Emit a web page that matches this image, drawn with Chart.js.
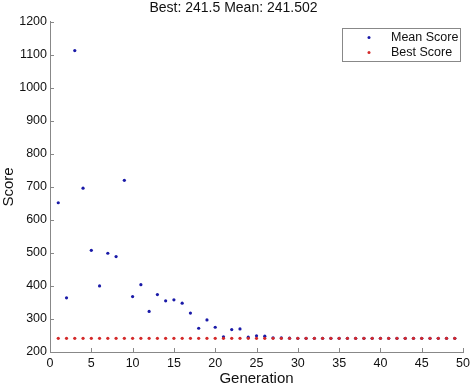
<!DOCTYPE html>
<html><head><meta charset="utf-8">
<script src="https://cdn.jsdelivr.net/npm/chart.js@4.4.0/dist/chart.umd.min.js"></script>
<style>html,body{margin:0;padding:0;background:#fff;}#wrap{width:474px;height:385px;}</style>
</head><body><div id="wrap"><canvas id="c" width="474" height="385"></canvas></div>
<script>
const generations = [1,2,3,4,5,6,7,8,9,10,11,12,13,14,15,16,17,18,19,20,21,22,23,24,25,26,27,28,29,30,31,32,33,34,35,36,37,38,39,40,41,42,43,44,45,46,47,48,49];
const meanScore = [652,364,1113,696,508,400,499,489,720,368,404,323,374,355,358,348,318,272,297,275,246,268,270,245,249,248,243,242.5,242,241.5,241.5,241.5,241.5,241.5,241.5,241.5,241.5,241.5,241.5,241.5,241.5,241.5,241.5,241.5,241.5,241.5,241.5,241.5,241.502];
const bestScore = generations.map(() => 241.5);
const xTicks = [0,5,10,15,20,25,30,35,40,45,50];
const yTicks = [200,300,400,500,600,700,800,900,1000,1100,1200];
const titleText = 'Best: 241.5 Mean: 241.502';
const FONT = "'Liberation Sans', Arial, sans-serif";

const toPts = (ys) => generations.map((g, i) => ({x: g, y: ys[i]}));

const extras = {
  id: 'extras',
  afterDraw(chart) {
    const ctx = chart.ctx, a = chart.chartArea;
    const xs = chart.scales.x, ys = chart.scales.y;
    ctx.save();
    ctx.strokeStyle = '#888';
    ctx.lineWidth = 1;
    ctx.beginPath();
    xTicks.forEach(v => { const px = Math.round(xs.getPixelForValue(v)) + 0.5; ctx.moveTo(px, a.bottom); ctx.lineTo(px, a.bottom - 4); });
    yTicks.forEach(v => { const py = Math.round(ys.getPixelForValue(v)) + 0.5; ctx.moveTo(a.left, py); ctx.lineTo(a.left + 4, py); });
    ctx.stroke();
    // legend
    const lx = 342.5, ly = 28.5, lw = 118, lh = 33;
    ctx.fillStyle = '#fff';
    ctx.fillRect(lx, ly, lw, lh);
    ctx.strokeStyle = '#888';
    ctx.strokeRect(lx, ly, lw, lh);
    ctx.font = '12.5px ' + FONT;
    ctx.textBaseline = 'middle';
    chart.data.datasets.forEach((ds, i) => {
      const cy = 37.5 + i * 15;
      ctx.fillStyle = ds.backgroundColor;
      ctx.beginPath(); ctx.arc(369, cy, 1.5, 0, Math.PI * 2); ctx.fill();
      ctx.fillStyle = '#111';
      ctx.textAlign = 'left';
      ctx.fillText(ds.label, 391, cy);
    });
    ctx.restore();
  }
};

new Chart(document.getElementById('c'), {
  type: 'scatter',
  data: {
    datasets: [
      {label: 'Mean Score', order: 1, data: toPts(meanScore), backgroundColor: '#1a1aa8', borderColor: '#1a1aa8', pointRadius: 1.6, pointBorderWidth: 0},
      {label: 'Best Score', order: 0, data: toPts(bestScore), backgroundColor: '#d42a2a', borderColor: '#d42a2a', pointRadius: 1.6, pointBorderWidth: 0}
    ]
  },
  options: {
    responsive: false,
    animation: false,
    layout: {padding: {left: 0, right: 7, top: 0, bottom: 0}},
    plugins: {
      legend: {display: false},
      tooltip: {enabled: false},
      title: {display: true, text: titleText, color: '#111', font: {family: FONT, size: 14, weight: 'normal'}, padding: {top: 0, bottom: 5}}
    },
    scales: {
      x: {
        type: 'linear', min: 0, max: 50,
        afterBuildTicks: s => { s.ticks = xTicks.map(v => ({value: v})); },
        afterFit: s => { s.height = 33; },
        grid: {display: false, drawTicks: false},
        border: {display: true, color: '#888'},
        ticks: {color: '#111', font: {family: FONT, size: 12.5}, padding: 4, maxRotation: 0, callback: v => String(v)},
        title: {display: true, text: 'Generation', color: '#111', font: {family: FONT, size: 15, lineHeight: 0.8}, padding: {top: 0, bottom: 0}}
      },
      y: {
        type: 'linear', min: 200, max: 1200,
        afterBuildTicks: s => { s.ticks = yTicks.map(v => ({value: v})); },
        afterFit: s => { s.width = 50; },
        grid: {display: false, drawTicks: false},
        border: {display: true, color: '#888'},
        ticks: {color: '#111', font: {family: FONT, size: 12.5}, padding: 3, callback: v => String(v)},
        title: {display: true, text: 'Score', color: '#111', font: {family: FONT, size: 15}, padding: {top: 0, bottom: 4}}
      }
    }
  },
  plugins: [extras]
});
</script></body></html>
